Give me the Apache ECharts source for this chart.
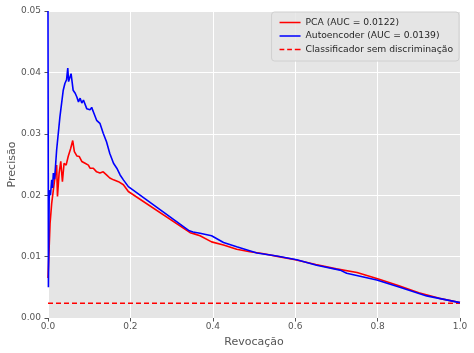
<!DOCTYPE html>
<html>
<head>
<meta charset="utf-8">
<script src="https://cdn.jsdelivr.net/npm/echarts@6/dist/echarts.min.js"></script>
<style>html,body{margin:0;padding:0;background:#fff}#c{width:474px;height:353px}</style>
</head>
<body>
<div id="c"></div>
<script>
const xTicks = [0, 0.2, 0.4, 0.6, 0.8, 1.0];
const yTicks = [0, 0.01, 0.02, 0.03, 0.04, 0.05];
const seriesNames = ['PCA (AUC = 0.0122)', 'Autoencoder (AUC = 0.0139)', 'Classificador sem discriminação'];

const pcaRecall = [0, 0.002, 0.005, 0.009, 0.013, 0.017, 0.021, 0.023, 0.027, 0.031, 0.035, 0.039, 0.044, 0.049, 0.055, 0.060, 0.064, 0.070, 0.076, 0.082, 0.090, 0.098, 0.102, 0.110, 0.118, 0.126, 0.134, 0.142, 0.150, 0.159, 0.171, 0.183, 0.195, 0.345, 0.355, 0.369, 0.397, 0.426, 0.458, 0.490, 0.52, 0.56, 0.60, 0.65, 0.70, 0.75, 0.80, 0.85, 0.90, 0.95, 1.0];
const pcaPrecision = [0.0065, 0.0100, 0.0154, 0.0187, 0.0184, 0.0230, 0.0249, 0.0198, 0.0236, 0.0255, 0.0222, 0.0252, 0.0249, 0.0263, 0.0276, 0.0289, 0.0271, 0.0264, 0.0263, 0.0255, 0.0252, 0.0249, 0.0244, 0.0244, 0.0238, 0.0236, 0.0238, 0.0233, 0.0228, 0.0225, 0.0222, 0.0217, 0.0206, 0.0139, 0.0137, 0.0134, 0.0124, 0.0119, 0.0112, 0.0108, 0.0105, 0.0100, 0.0095, 0.0087, 0.0080, 0.0074, 0.0064, 0.0053, 0.0041, 0.0032, 0.0025];

const aeRecall = [0, 0.001, 0.003, 0.006, 0.009, 0.011, 0.013, 0.016, 0.021, 0.029, 0.037, 0.041, 0.045, 0.048, 0.050, 0.052, 0.056, 0.061, 0.066, 0.070, 0.074, 0.078, 0.082, 0.086, 0.094, 0.102, 0.106, 0.110, 0.118, 0.126, 0.134, 0.142, 0.150, 0.159, 0.167, 0.175, 0.183, 0.195, 0.343, 0.352, 0.369, 0.397, 0.426, 0.458, 0.507, 0.555, 0.604, 0.652, 0.709, 0.725, 0.798, 0.854, 0.919, 1.0];
const aePrecision = [0.0500, 0.0050, 0.0208, 0.0200, 0.0225, 0.0212, 0.0236, 0.0226, 0.0274, 0.0328, 0.0371, 0.0382, 0.0388, 0.0407, 0.0385, 0.0382, 0.0398, 0.0371, 0.0366, 0.0360, 0.0352, 0.0358, 0.0350, 0.0355, 0.0341, 0.0339, 0.0343, 0.0336, 0.0322, 0.0317, 0.0301, 0.0287, 0.0268, 0.0252, 0.0244, 0.0233, 0.0225, 0.0214, 0.0142, 0.0140, 0.0138, 0.0134, 0.0123, 0.0116, 0.0106, 0.0101, 0.0095, 0.0086, 0.0078, 0.0073, 0.0062, 0.0050, 0.0036, 0.0025];

const baselineRecall = [0, 1];
const baselinePrecision = [0.0024, 0.0024];

const zip = (a, b) => a.map((v, i) => [v, b[i]]);
const font = 'DejaVu Sans';
const solidIcon = 'path://M0,0h22v1.6h-22z';
const dashIcon = 'path://M0,0h5v1.6h-5z M8,0h5v1.6h-5z M16,0h6v1.6h-6z';

const chart = echarts.init(document.getElementById('c'), null, {renderer: 'canvas'});
chart.setOption({
  animation: false,
  backgroundColor: '#ffffff',
  textStyle: {fontFamily: font},
  grid: {left: 48, right: 14, top: 11, bottom: 35, backgroundColor: '#e5e5e5', show: true, borderWidth: 0,
         containLabel: false, outerBoundsMode: 'none'},
  legend: {
    data: [
      {name: seriesNames[0], icon: solidIcon},
      {name: seriesNames[1], icon: solidIcon},
      {name: seriesNames[2], icon: dashIcon}
    ],
    right: 15, top: 12,
    orient: 'vertical',
    itemWidth: 21, itemHeight: 10, itemGap: 4.5,
    backgroundColor: 'rgba(229,229,229,0.85)',
    borderColor: '#d0d0d0', borderWidth: 1, borderRadius: 3,
    padding: [6, 6, 7, 8],
    textStyle: {fontFamily: font, fontSize: 9.2, color: '#262626'}
  },
  xAxis: {
    type: 'value', min: xTicks[0], max: xTicks[xTicks.length - 1], interval: 0.2,
    name: 'Revocação', nameLocation: 'middle', nameGap: 19, nameMoveOverlap: false,
    nameTextStyle: {fontFamily: font, fontSize: 11, color: '#555'},
    axisLine: {show: false},
    axisTick: {show: true, length: 3.5, lineStyle: {color: '#555'}},
    axisLabel: {fontFamily: font, fontSize: 9, color: '#555', margin: 4, formatter: v => v.toFixed(1)},
    splitLine: {show: true, lineStyle: {color: '#ffffff', width: 1}}
  },
  yAxis: {
    type: 'value', min: yTicks[0], max: yTicks[yTicks.length - 1], interval: 0.01,
    name: 'Precisão', nameLocation: 'middle', nameGap: 30, nameMoveOverlap: false,
    nameTextStyle: {fontFamily: font, fontSize: 11, color: '#555'},
    axisLine: {show: false},
    axisTick: {show: true, length: 3.5, lineStyle: {color: '#555'}},
    axisLabel: {fontFamily: font, fontSize: 9, color: '#555', margin: 7, formatter: v => v.toFixed(2)},
    splitLine: {show: true, lineStyle: {color: '#ffffff', width: 1}}
  },
  series: [
    {name: seriesNames[0], type: 'line', data: zip(pcaRecall, pcaPrecision), symbol: 'none', clip: true,
     lineStyle: {color: '#ff0000', width: 1.6}, itemStyle: {color: '#ff0000'}, z: 3},
    {name: seriesNames[1], type: 'line', data: zip(aeRecall, aePrecision), symbol: 'none', clip: true,
     lineStyle: {color: '#0000ff', width: 1.6}, itemStyle: {color: '#0000ff'}, z: 4},
    {name: seriesNames[2], type: 'line', data: zip(baselineRecall, baselinePrecision), symbol: 'none', clip: true,
     lineStyle: {color: '#ff0000', width: 1.6, type: [5, 3]}, itemStyle: {color: '#ff0000'}, z: 2}
  ]
});
</script>
</body>
</html>
